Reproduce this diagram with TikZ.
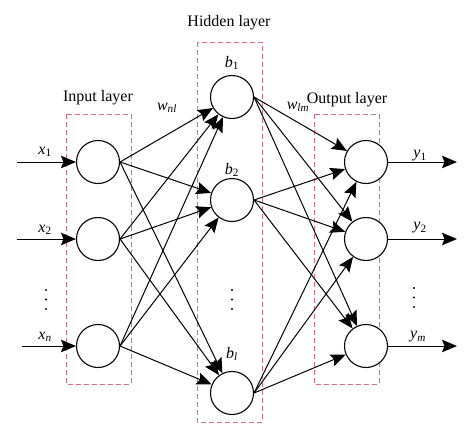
\documentclass[tikz,border=0pt]{standalone}
\usepackage{fontspec}
\setmainfont{Liberation Serif}
\usetikzlibrary{arrows.meta}
\definecolor{boxpink}{RGB}{210,110,135}
\newcommand{\vlab}[2]{\textit{#1}\textsubscript{#2}}
\tikzset{
  neuron/.style={circle, draw, line width=1.1pt, fill=white, minimum size=43pt, inner sep=0pt},
  conn/.style={line width=1pt, -{Stealth[length=15pt,width=12.5pt,inset=2.5pt]}},
  dashbox/.style={draw=boxpink, line width=1pt, dash pattern=on 5pt off 3pt},
  lbl/.style={font=\fontsize{16}{19}\selectfont, inner sep=0pt},
  dotmark/.style={fill=black}
}
\begin{document}
\begin{tikzpicture}[x=1pt,y=-1pt]
\useasboundingbox (0,0) rectangle (474,440);
% dashed layer boxes
\draw[dashbox] (66,114) rectangle (131,384);
\draw[dashbox] (197,42) rectangle (262,422);
\draw[dashbox] (314,114) rectangle (379,384);
% neurons
\node[neuron] (i1) at (98,162) {};
\node[neuron] (i2) at (98,239) {};
\node[neuron] (in) at (98,346) {};
\node[neuron] (h1) at (232,97) {};
\node[neuron] (h2) at (232,200) {};
\node[neuron] (hl) at (232,393) {};
\node[neuron] (o1) at (366,162) {};
\node[neuron] (o2) at (366,239) {};
\node[neuron] (om) at (366,346) {};
% input / output free ends
\coordinate (s1) at (17,162);
\coordinate (s2) at (17,239);
\coordinate (sn) at (22,346);
\coordinate (e1) at (457,162);
\coordinate (e2) at (457,239);
\coordinate (em) at (457,346);
\draw[conn] (s1) -- (i1.west);
\draw[conn] (s2) -- (i2.west);
\draw[conn] (sn) -- (in.west);
\draw[conn] (o1.east) -- (e1);
\draw[conn] (o2.east) -- (e2);
\draw[conn] (om.east) -- (em);
% input -> hidden
\foreach \a in {i1,i2,in}{
  \foreach \b in {h1,h2,hl}{
    \draw[conn] (\a.east) -- (\b);
  }
}
% hidden -> output
\foreach \a in {h1,h2,hl}{
  \foreach \b in {o1,o2,om}{
    \draw[conn] (\a.east) -- (\b);
  }
}
% labels
\node[lbl] (thid) at (229,23) {Hidden layer};
\node[lbl] (tin) at (98,98) {Input layer};
\node[lbl] (tout) at (347,100) {Output layer};
\node[lbl] (wnl) at (167,108) {\textit{w}\textsubscript{\textit{nl}}};
\node[lbl] (wlm) at (298,107) {\textit{w}\textsubscript{\textit{lm}}};
\node[lbl] (b1) at (232,63) {\vlab{b}{1}};
\node[lbl] (b2) at (232,170) {\vlab{b}{2}};
\node[lbl] (bl) at (232,354) {\vlab{b}{\textit{l}}};
\node[lbl] (lx1) at (45,152) {\vlab{x}{1}};
\node[lbl] (lx2) at (45,230) {\vlab{x}{2}};
\node[lbl] (lxn) at (45,337) {\vlab{x}{\textit{n}}};
\node[lbl] (ly1) at (420,156) {\vlab{y}{1}};
\node[lbl] (ly2) at (420,228) {\vlab{y}{2}};
\node[lbl] (lym) at (418,337) {\vlab{y}{\textit{m}}};
% vertical dots
\foreach \x/\y in {46/290, 232/290, 414/288}{
  \fill[dotmark] (\x,\y) circle (1.1pt);
  \fill[dotmark] (\x,\y+9.5) circle (1.1pt);
  \fill[dotmark] (\x,\y+19) circle (1.1pt);
}
\end{tikzpicture}
\end{document}
